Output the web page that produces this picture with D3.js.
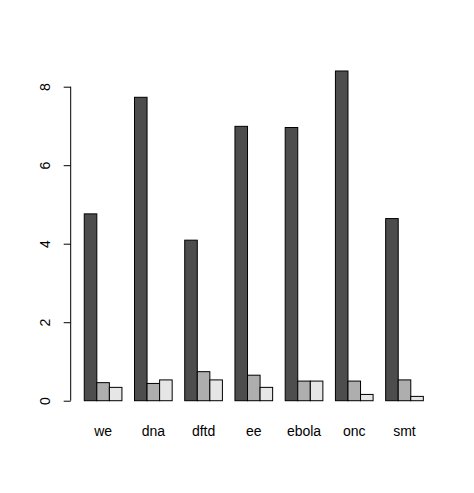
<!DOCTYPE html>
<html>
<head>
<meta charset="utf-8">
<script src="https://cdn.jsdelivr.net/npm/d3@7"></script>
<style>
body{margin:0;background:#fff}
text{font-family:"Liberation Sans",Arial,sans-serif}
</style>
</head>
<body>
<div id="container"></div>
<script>
var categories = ["we","dna","dftd","ee","ebola","onc","smt"]
var series1 = [4.76,7.73,4.09,6.99,6.96,8.40,4.64]
var series2 = [0.46,0.44,0.74,0.65,0.50,0.50,0.53]
var series3 = [0.34,0.53,0.53,0.34,0.50,0.16,0.11]
var yTicks = [0,2,4,6,8]
var colors = ["#4D4D4D","#AEAEAE","#E6E6E6"]

var svg = d3.select("#container").append("svg").attr("width",474).attr("height",493)

var allSeries = [series1,series2,series3]
// barplot units: each group is 3 bars + 1 space
var xScale = d3.scaleLinear().domain([1-0.04*27, 28+0.04*27]).range([70.7,436.9])
var yMax = d3.max(series1)
var yScale = d3.scaleLinear().domain([-0.04*yMax, yMax*1.04]).range([413.9,57.8])

categories.forEach(function(c,i){
    var start = 1+i*4
    allSeries.forEach(function(s,j){
        svg.append("rect")
        .attr("x",xScale(start+j))
        .attr("width",xScale(start+j+1)-xScale(start+j))
        .attr("y",yScale(s[i]))
        .attr("height",yScale(0)-yScale(s[i]))
        .attr("fill",colors[j])
        .attr("stroke","#000")
        .attr("stroke-width",1)
    })
    svg.append("text")
    .attr("x",xScale(start+1.5))
    .attr("y",436)
    .attr("text-anchor","middle")
    .attr("font-size",14)
    .attr("fill","#000")
    .text(c)
})

var yAxis = svg.append("g")
    .attr("transform","translate(70.7,0)")
    .call(d3.axisLeft(yScale).tickValues(yTicks).tickSize(7).tickSizeOuter(0))
yAxis.select(".domain").remove()
yAxis.append("line")
    .attr("x1",0).attr("x2",0)
    .attr("y1",yScale(0)).attr("y2",yScale(8))
    .attr("stroke","#000")
yAxis.selectAll(".tick line").attr("stroke","#000")
yAxis.selectAll(".tick text")
    .attr("font-size",14)
    .attr("fill","#000")
    .attr("font-family","Liberation Sans, Arial, sans-serif")
    .attr("text-anchor","middle")
    .attr("dy",0)
    .attr("x",0)
    .attr("y",0)
    .attr("transform","translate(-20.7,0) rotate(-90)")
</script>
</body>
</html>
